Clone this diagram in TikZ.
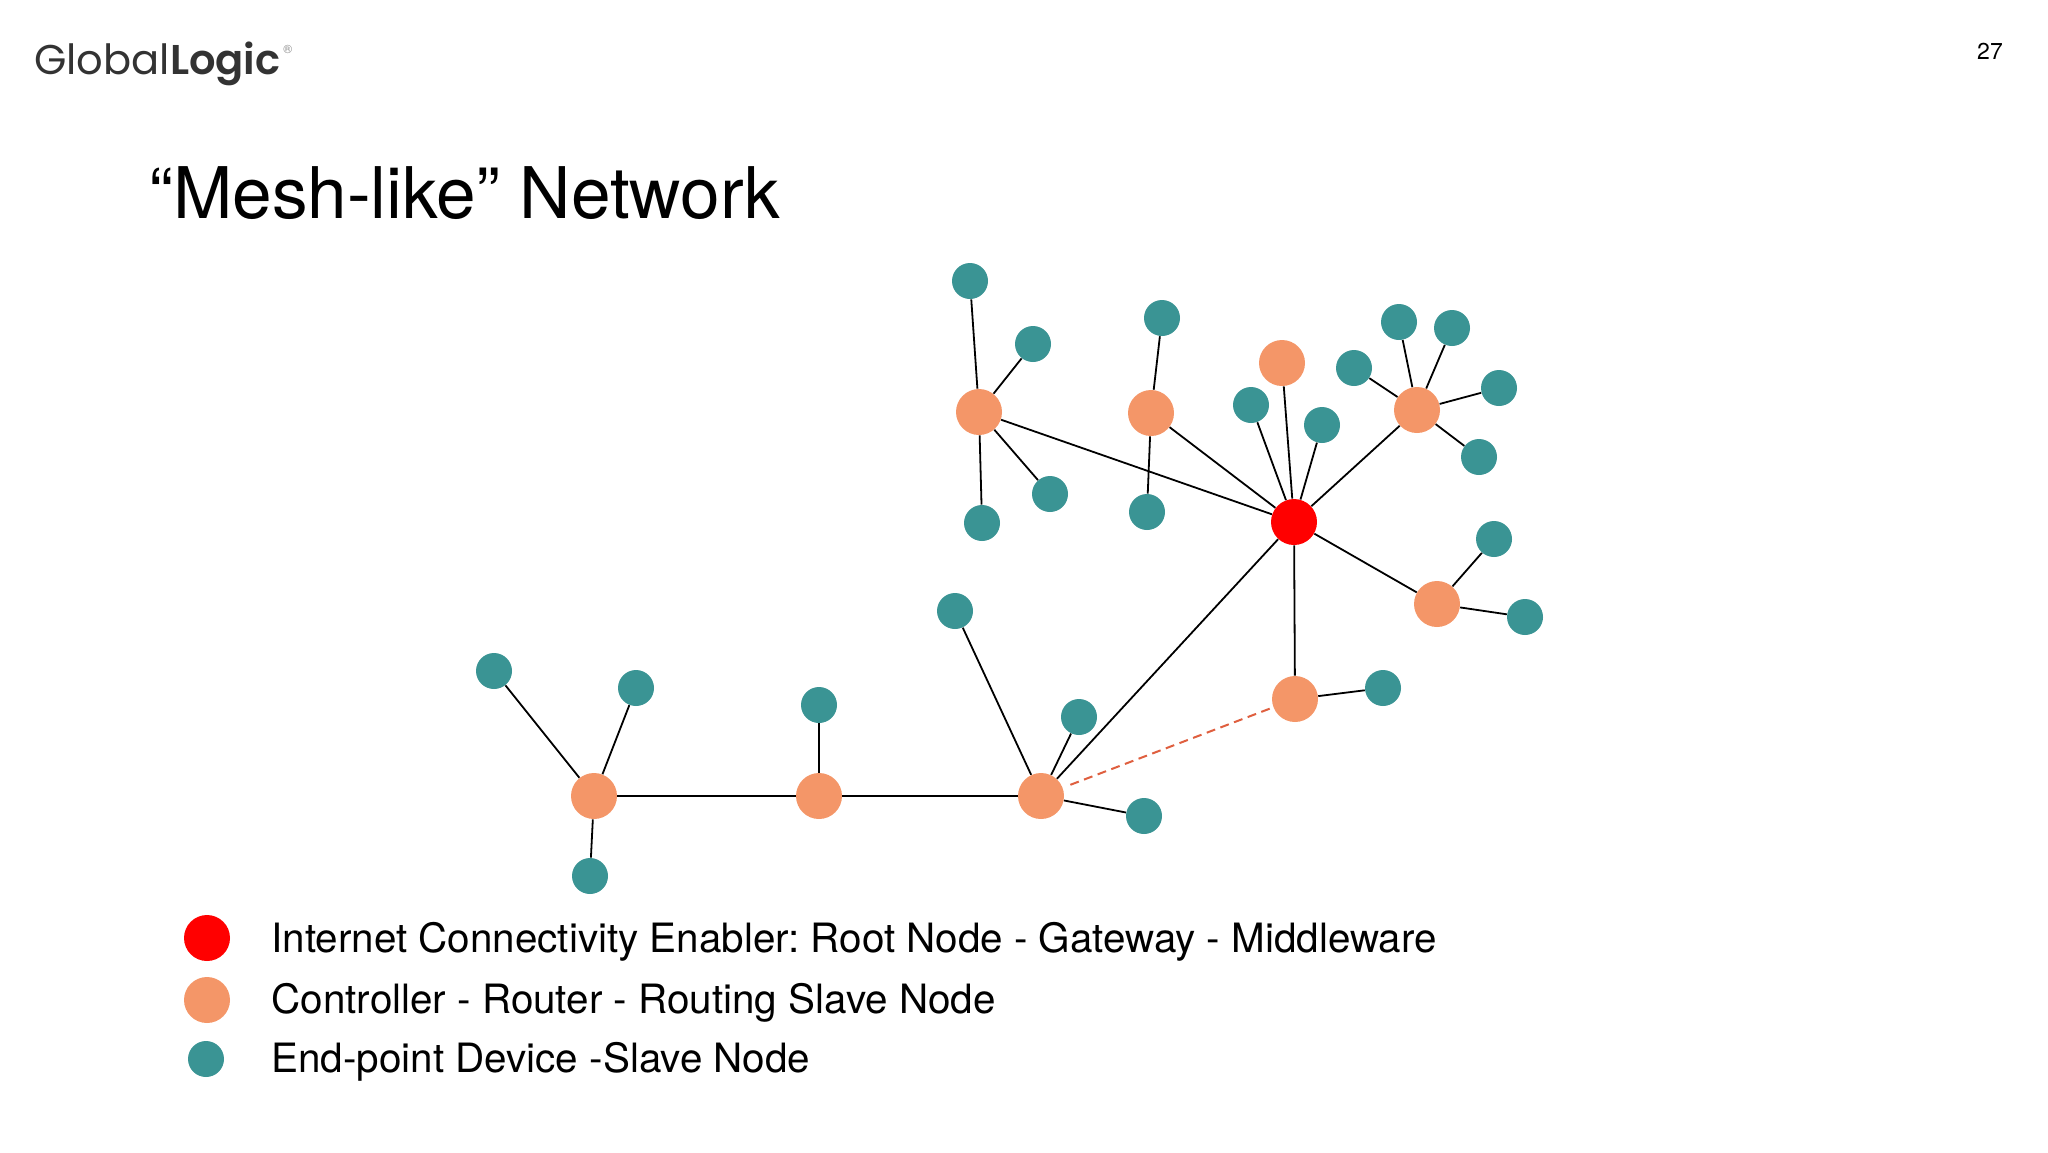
\documentclass[tikz,border=0pt]{standalone}
\usepackage{fontspec}
\usepackage{xcolor}
\setmainfont{TeX Gyre Heros}
\newfontfamily\logofont{Poppins}
\newfontfamily\logoboldfont{Poppins SemiBold}
\usetikzlibrary{positioning}
\definecolor{rootred}{HTML}{FF0000}
\definecolor{routerorange}{HTML}{F49668}
\definecolor{deviceteal}{HTML}{3A9494}
\definecolor{linkdash}{HTML}{DF5F3F}
\tikzset{
	rootnode/.style={circle, fill=rootred, inner sep=0pt, minimum size=23pt},
	routernode/.style={circle, fill=routerorange, inner sep=0pt, minimum size=23pt},
	devicenode/.style={circle, fill=deviceteal, inner sep=0pt, minimum size=18pt},
	legendtext/.style={anchor=base west, inner sep=0pt, font=\fontsize{20.2}{24}\selectfont\frenchspacing},
	link/.style={line width=0.9pt},
	backuplink/.style={line width=1pt, color=linkdash, dash pattern=on 4.5pt off 2.8pt, shorten >=1pt, shorten <=4pt}
}

\begin{document}
\begin{tikzpicture}[x=0.5pt, y=-0.5pt]
	\useasboundingbox (0,0) rectangle (2048,1152);

	\node(logo)[anchor=base west, inner sep=0pt, text=black!80, font=\fontsize{20.8}{26}\selectfont] at (34,74) {{\logofont Global}{\logoboldfont Logic}};
	\node(reg)[anchor=base west, inner sep=0pt, text=black!45, font=\fontsize{6}{7}\selectfont] at (283,53) {®};
	\node(pagenum)[anchor=base, inner sep=0pt, font=\fontsize{11.5}{13}\selectfont] at (1990,59) {27};
	\node(title)[anchor=base west, inner sep=0pt, font=\fontsize{35.6}{40}\selectfont] at (149,218) {“Mesh-like” Network};

	\node(root)[rootnode] at (1294,522) {};

	\node(routerA)[routernode] at (979,412) {};
	\node(routerB)[routernode] at (1151,413) {};
	\node(routerC)[routernode] at (1282,363) {};
	\node(routerD)[routernode] at (1417,410) {};
	\node(routerE)[routernode] at (1437,604) {};
	\node(routerF)[routernode] at (1295,699) {};
	\node(routerG)[routernode] at (1041,796) {};
	\node(routerH)[routernode] at (819,796) {};
	\node(routerI)[routernode] at (594,796) {};

	\node(devA1)[devicenode] at (970,281) {};
	\node(devA2)[devicenode] at (1033,344) {};
	\node(devA3)[devicenode] at (1050,494) {};
	\node(devA4)[devicenode] at (982,523) {};
	\node(devB1)[devicenode] at (1162,318) {};
	\node(devB2)[devicenode] at (1147,512) {};
	\node(devR1)[devicenode] at (1251,405) {};
	\node(devR2)[devicenode] at (1322,425) {};
	\node(devD1)[devicenode] at (1354,368) {};
	\node(devD2)[devicenode] at (1399,322) {};
	\node(devD3)[devicenode] at (1452,328) {};
	\node(devD4)[devicenode] at (1499,388) {};
	\node(devD5)[devicenode] at (1479,457) {};
	\node(devE1)[devicenode] at (1494,539) {};
	\node(devE2)[devicenode] at (1525,617) {};
	\node(devF1)[devicenode] at (1383,688) {};
	\node(devG1)[devicenode] at (955,611) {};
	\node(devG2)[devicenode] at (1079,717) {};
	\node(devG3)[devicenode] at (1144,816) {};
	\node(devH1)[devicenode] at (819,705) {};
	\node(devI1)[devicenode] at (494,671) {};
	\node(devI2)[devicenode] at (636,688) {};
	\node(devI3)[devicenode] at (590,876) {};

	\path[link] (routerA) edge (root);
	\path[link] (routerB) edge (root);
	\path[link] (routerC) edge (root);
	\path[link] (routerD) edge (root);
	\path[link] (routerE) edge (root);
	\path[link] (routerF) edge (root);
	\path[link] (routerG) edge (root);
	\path[link] (devR1) edge (root);
	\path[link] (devR2) edge (root);
	\path[link] (routerA) edge (devA1);
	\path[link] (routerA) edge (devA2);
	\path[link] (routerA) edge (devA3);
	\path[link] (routerA) edge (devA4);
	\path[link] (routerB) edge (devB1);
	\path[link] (routerB) edge (devB2);
	\path[link] (routerD) edge (devD1);
	\path[link] (routerD) edge (devD2);
	\path[link] (routerD) edge (devD3);
	\path[link] (routerD) edge (devD4);
	\path[link] (routerD) edge (devD5);
	\path[link] (routerE) edge (devE1);
	\path[link] (routerE) edge (devE2);
	\path[link] (routerF) edge (devF1);
	\path[link] (routerG) edge (devG1);
	\path[link] (routerG) edge (devG2);
	\path[link] (routerG) edge (devG3);
	\path[link] (routerG) edge (routerH);
	\path[link] (routerH) edge (devH1);
	\path[link] (routerH) edge (routerI);
	\path[link] (routerI) edge (devI1);
	\path[link] (routerI) edge (devI2);
	\path[link] (routerI) edge (devI3);
	\path[backuplink] (routerG) edge (routerF);

	\node(keyroot)[rootnode] at (207,938) {};
	\node(keyrouter)[routernode] at (207,1000) {};
	\node(keydevice)[devicenode] at (206,1059) {};
	\node(textroot)[legendtext] at (271,952) {Internet Connectivity Enabler: Root Node - Gateway - Middleware};
	\node(textrouter)[legendtext] at (271,1013) {Controller - Router - Routing Slave Node};
	\node(textdevice)[legendtext] at (271,1072) {End-point Device -Slave Node};
\end{tikzpicture}
\end{document}
